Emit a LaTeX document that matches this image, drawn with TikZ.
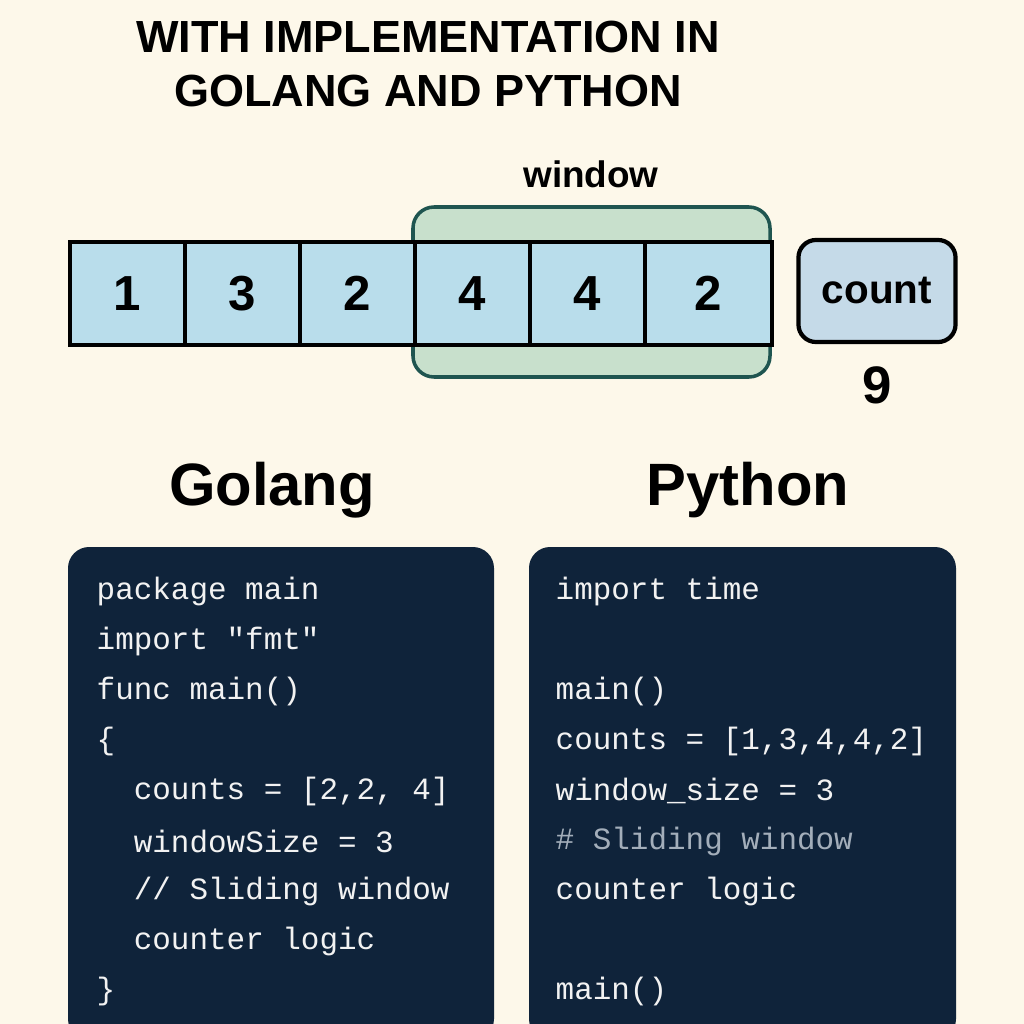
\documentclass[tikz,border=0pt]{standalone}
\usepackage{fontspec}
\setmainfont{Liberation Sans}
\setmonofont{Liberation Mono}
\usetikzlibrary{positioning}
\definecolor{paper}{HTML}{FDF8EA}
\definecolor{cellblue}{HTML}{B9DDEB}
\definecolor{wingreen}{HTML}{C8E0CC}
\definecolor{winedge}{HTML}{1F5550}
\definecolor{countblue}{HTML}{C5DAE8}
\definecolor{navy}{HTML}{0F233A}
\definecolor{codetext}{HTML}{F2F2F2}
\definecolor{commentgrey}{HTML}{A3AEBA}
\tikzset{
    cell/.style = {draw=black, line width=1.2pt, fill=cellblue, minimum width=1.15cm, minimum height=1.03cm, font=\fontsize{14pt}{14pt}\selectfont\bfseries, inner sep=0pt},
    codeline/.style = {anchor=west, text=codetext, font=\ttfamily\fontsize{8.8pt}{8.8pt}\selectfont, inner sep=0pt},
    heading/.style = {font=\fontsize{17pt}{17pt}\selectfont\bfseries}
}
\begin{document}
\begin{tikzpicture}[x=0.01cm, y=-0.01cm]
    \fill[paper] (0,0) rectangle (1024,1024);
    \useasboundingbox (0,0) rectangle (1024,1024);
    \node[font=\fontsize{12.8pt}{15.5pt}\selectfont\bfseries, align=center] (title) at (428,64) {WITH IMPLEMENTATION IN\\GOLANG AND PYTHON};
    % window
    \draw[winedge, fill=wingreen, line width=1pt, rounded corners=6pt] (413,207) rectangle (770,377);
    \node[font=\fontsize{10.5pt}{10.5pt}\selectfont\bfseries] (winlabel) at (591,174) {window};
    % array
    \foreach \v [count=\i] in {1,3,2,4,4} {
        \node[cell, anchor=north west] (c\i) at ({68+115*(\i-1)},240) {\v};
    }
    \node[cell, anchor=north west, minimum width=1.27cm] (c6) at (643,240) {2};
    % count
    \node[draw=black, line width=1.2pt, fill=countblue, rounded corners=5pt, minimum width=1.57cm, minimum height=1.02cm, font=\fontsize{11.5pt}{11.5pt}\selectfont\bfseries] (count) at (877,291) {count};
    \node[font=\fontsize{15pt}{15pt}\selectfont\bfseries, below=0.1cm of count] (total) {9};
    % headings
    \node[heading] (golang) at (272,490) {Golang};
    \node[heading] (python) at (748,490) {Python};
    % code boxes
    \fill[navy, rounded corners=6pt] (68,547) rectangle (494,1040);
    \fill[navy, rounded corners=6pt] (529,547) rectangle (956,1040);
    \foreach \t [count=\i] in {package main, import "fmt", func main(), \{, {\ \ counts = [2,2, 4]}, {\ \ windowSize = 3}, {\ \ // Sliding window}, {\ \ counter logic}, \}} {
        \node[codeline] (go\i) at (96,{591+50*(\i-1)}) {\t};
    }
    \foreach \t [count=\i] in {import time, {}, main(), {counts = [1,3,4,4,2]}, {window\_size = 3}, {\textcolor{commentgrey}{\# Sliding window}}, counter logic, {}, main()} {
        \node[codeline] (py\i) at (555,{591+50*(\i-1)}) {\t};
    }
\end{tikzpicture}
\end{document}
